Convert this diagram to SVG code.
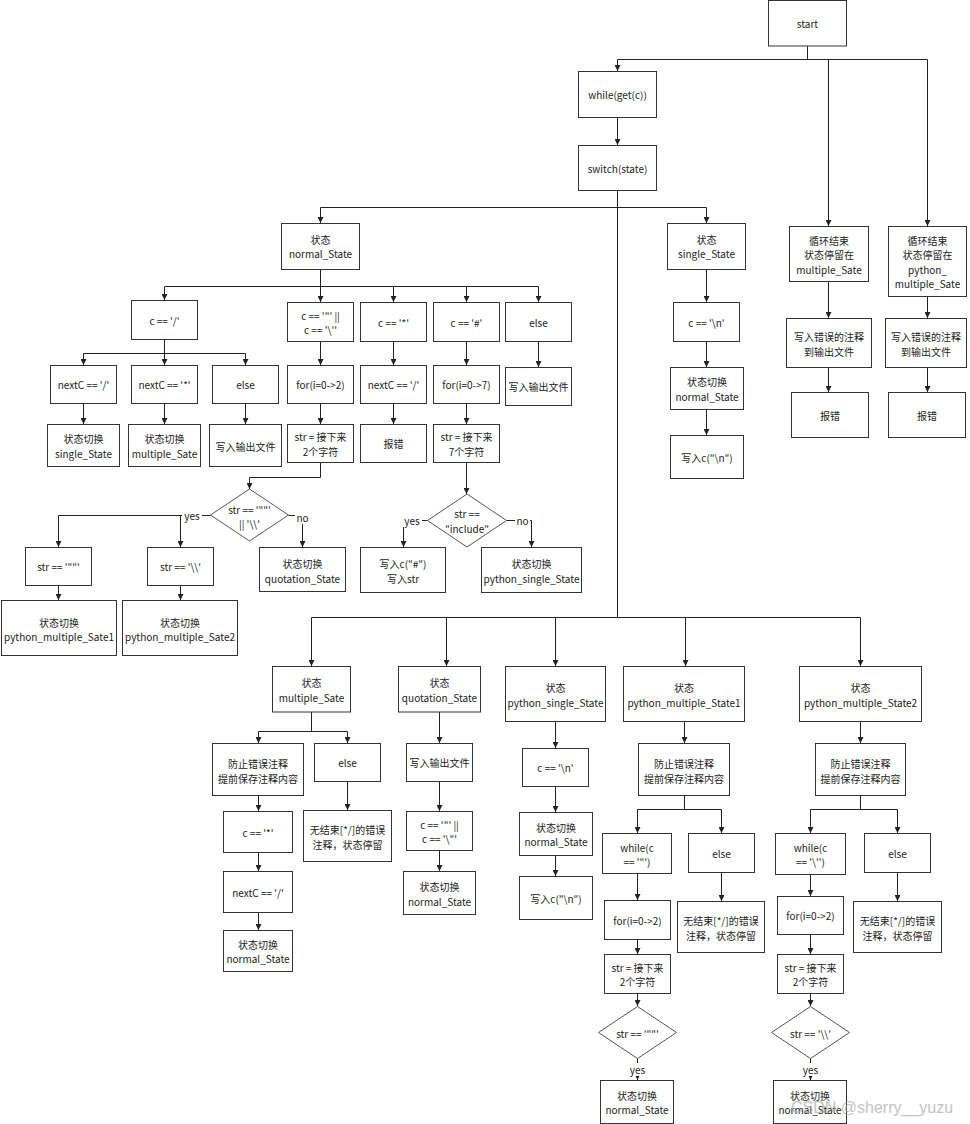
<svg xmlns="http://www.w3.org/2000/svg" width="970" height="1124" viewBox="0 0 970 1124">
<style>
.n rect,.n polygon{fill:#fff;stroke:#333;stroke-width:1}
.n polygon{stroke:#555}
text{font-family:"Noto Sans CJK SC","Noto Sans",sans-serif;font-size:10px;fill:#222;text-anchor:middle;dominant-baseline:central}
#connectors path{fill:none;stroke:#222;stroke-width:1}
#connectors path.a{marker-end:url(#arr)}
.lbl rect{fill:#fff;stroke:none}
.wm{font-family:"Liberation Sans",Arial,sans-serif;font-size:16px;fill:#aaa;opacity:0.7;text-anchor:start;dominant-baseline:alphabetic}
</style>
<defs>
<marker id="arr" viewBox="0 0 6 6" refX="6" refY="3" markerWidth="6" markerHeight="6" markerUnits="userSpaceOnUse" orient="auto">
<path d="M0,0 L6,3 L0,6 z" fill="#222"/>
</marker>
</defs>
<rect width="970" height="1124" fill="#fff"/>

<g id="connectors">
<path d="M807.5,46 V59.5"/>
<path d="M617.5,59.5 H927.5"/>
<path class="a" d="M617.5,59.5 V71"/>
<path class="a" d="M828.5,59.5 V226"/>
<path class="a" d="M927.5,59.5 V226"/>
<path class="a" d="M617.5,117 V145"/>
<path d="M617.5,190.5 V617.5"/>
<path d="M320.5,207.5 H706.5"/>
<path class="a" d="M320.5,207.5 V223"/>
<path class="a" d="M706.5,207.5 V223"/>
<path d="M320.5,269.5 V286.5"/>
<path d="M164.5,286.5 H538.5"/>
<path class="a" d="M164.5,286.5 V300"/>
<path class="a" d="M320.5,286.5 V302"/>
<path class="a" d="M393.5,286.5 V302"/>
<path class="a" d="M466.5,286.5 V302"/>
<path class="a" d="M538.5,286.5 V302"/>
<path d="M164.5,339.5 V353.5"/>
<path d="M83.5,353.5 H245.5"/>
<path class="a" d="M83.5,353.5 V365"/>
<path class="a" d="M164.5,353.5 V365"/>
<path class="a" d="M245.5,353.5 V365"/>
<path class="a" d="M83.5,403.5 V424"/>
<path class="a" d="M164.5,403.5 V424"/>
<path class="a" d="M245.5,403.5 V424"/>
<path class="a" d="M320.5,341.5 V365"/>
<path class="a" d="M320.5,403.5 V424"/>
<path class="a" d="M320.5,462.5 V477.5 H249.5 V489"/>
<path class="a" d="M393.5,341.5 V365"/>
<path class="a" d="M393.5,403.5 V424"/>
<path class="a" d="M466.5,341.5 V365"/>
<path class="a" d="M466.5,403.5 V424"/>
<path class="a" d="M466.5,462.5 V494"/>
<path class="a" d="M538.5,341.5 V367"/>
<path class="a" d="M210.5,515.5 H58.5 V547"/>
<path class="a" d="M180.5,515.5 V547"/>
<path class="a" d="M288.5,515.5 H302.5 V547"/>
<path class="a" d="M58.5,585.5 V600"/>
<path class="a" d="M180.5,585.5 V600"/>
<path class="a" d="M427.5,520.5 H403.5 V547"/>
<path class="a" d="M506.5,520.5 H531.5 V547"/>
<path class="a" d="M706.5,269.5 V302"/>
<path class="a" d="M706.5,341.5 V367"/>
<path class="a" d="M706.5,409.5 V435"/>
<path class="a" d="M828.5,281.5 V318"/>
<path class="a" d="M828.5,367.5 V392"/>
<path class="a" d="M927.5,296.5 V318"/>
<path class="a" d="M927.5,367.5 V392"/>
<path d="M311.5,617.5 H860.5"/>
<path class="a" d="M311.5,617.5 V666"/>
<path class="a" d="M446.5,617.5 V666"/>
<path class="a" d="M555.5,617.5 V666"/>
<path class="a" d="M685.5,617.5 V666"/>
<path class="a" d="M860.5,617.5 V666"/>
<path d="M311.5,712 V731.5"/>
<path d="M258.5,731.5 H347.5"/>
<path class="a" d="M258.5,731.5 V743"/>
<path class="a" d="M347.5,731.5 V743"/>
<path class="a" d="M258.5,795.5 V811"/>
<path class="a" d="M258.5,852.5 V871"/>
<path class="a" d="M258.5,912.5 V930"/>
<path class="a" d="M347.5,781.5 V810"/>
<path class="a" d="M439.5,712 V743"/>
<path class="a" d="M439.5,781.5 V811"/>
<path class="a" d="M439.5,850.5 V871"/>
<path class="a" d="M555.5,721.5 V748"/>
<path class="a" d="M555.5,786.5 V812"/>
<path class="a" d="M555.5,855.5 V876"/>
<path class="a" d="M684.5,721.5 V743"/>
<path d="M684.5,795.5 V809.5"/>
<path d="M637.5,809.5 H721.5"/>
<path class="a" d="M637.5,809.5 V833"/>
<path class="a" d="M721.5,809.5 V833"/>
<path class="a" d="M637.5,873.5 V900"/>
<path class="a" d="M637.5,939.5 V954"/>
<path class="a" d="M637.5,993.5 V1006"/>
<path class="a" d="M637.5,1058.5 V1080"/>
<path class="a" d="M721.5,872.5 V901"/>
<path class="a" d="M860.5,721.5 V743"/>
<path d="M860.5,795.5 V809.5"/>
<path d="M810.5,809.5 H897.5"/>
<path class="a" d="M810.5,809.5 V833"/>
<path class="a" d="M897.5,809.5 V833"/>
<path class="a" d="M810.5,874.5 V896"/>
<path class="a" d="M810.5,934.5 V954"/>
<path class="a" d="M810.5,993.5 V1006"/>
<path class="a" d="M810.5,1058.5 V1080"/>
<path class="a" d="M897.5,872.5 V901"/>
</g>

<g id="labels" class="lbl">
<rect x="182" y="509" width="20" height="13"/><text x="192" y="515.5">yes</text>
<rect x="295" y="511" width="15" height="13"/><text x="302.5" y="517.5">no</text>
<rect x="402" y="514" width="20" height="13"/><text x="412" y="520.5">yes</text>
<rect x="515" y="514" width="15" height="13"/><text x="522.5" y="520.5">no</text>
<rect x="627" y="1063" width="21" height="13"/><text x="637.5" y="1069.5">yes</text>
<rect x="800" y="1063" width="21" height="13"/><text x="810.5" y="1069.5">yes</text>
</g>

<g id="start" class="n"><rect x="768.5" y="0.5" width="78" height="45.5"/><text x="807.5" y="23.5">start</text></g>
<g id="while" class="n"><rect x="578.5" y="71.5" width="78" height="46"/><text x="617.5" y="94.5">while(get(c))</text></g>
<g id="switch" class="n"><rect x="578.5" y="145.5" width="78" height="45"/><text x="617.5" y="168">switch(state)</text></g>

<g id="normal" class="n"><rect x="281.5" y="223.5" width="78" height="46"/><text x="320.5" y="239.5">状态</text><text x="320.5" y="253.5">normal_State</text></g>
<g id="single" class="n"><rect x="667.5" y="223.5" width="78" height="46"/><text x="706.5" y="239.5">状态</text><text x="706.5" y="253.5">single_State</text></g>
<g id="loop1" class="n"><rect x="789.5" y="226.5" width="79" height="55"/><text x="829" y="240">循环结束</text><text x="829" y="254.5">状态停留在</text><text x="829" y="269">multiple_Sate</text></g>
<g id="loop2" class="n"><rect x="888.5" y="226.5" width="78" height="70"/><text x="927.5" y="240">循环结束</text><text x="927.5" y="254.5">状态停留在</text><text x="927.5" y="269">python_</text><text x="927.5" y="283.5">multiple_Sate</text></g>
<g id="err1" class="n"><rect x="786.5" y="318.5" width="85" height="49"/><text x="829" y="336">写入错误的注释</text><text x="829" y="351">到输出文件</text></g>
<g id="err2" class="n"><rect x="885.5" y="318.5" width="81" height="49"/><text x="926" y="336">写入错误的注释</text><text x="926" y="351">到输出文件</text></g>
<g id="bao1" class="n"><rect x="791.5" y="392.5" width="77" height="45"/><text x="830" y="415">报错</text></g>
<g id="bao2" class="n"><rect x="888.5" y="392.5" width="77" height="45"/><text x="927" y="415">报错</text></g>
<g id="sc" class="n"><rect x="673.5" y="302.5" width="66" height="39"/><text x="706.5" y="322">c == '\n'</text></g>
<g id="sn" class="n"><rect x="670.5" y="367.5" width="73" height="42"/><text x="707" y="381.5">状态切换</text><text x="707" y="396">normal_State</text></g>
<g id="sw" class="n"><rect x="670.5" y="435.5" width="73" height="43"/><text x="707" y="457">写入c("\n")</text></g>

<g id="cs" class="n"><rect x="131.5" y="300.5" width="66" height="39"/><text x="164.5" y="320">c == '/'</text></g>
<g id="cq" class="n"><rect x="287.5" y="302.5" width="66" height="39"/><text x="320.5" y="315">c == '"' ||</text><text x="320.5" y="329">c == '\''</text></g>
<g id="cstar" class="n"><rect x="360.5" y="302.5" width="66" height="39"/><text x="393.5" y="322">c ==  '*'</text></g>
<g id="chash" class="n"><rect x="433.5" y="302.5" width="66" height="39"/><text x="466.5" y="322">c == '#'</text></g>
<g id="else1" class="n"><rect x="505.5" y="302.5" width="66" height="39"/><text x="538.5" y="322">else</text></g>
<g id="ns" class="n"><rect x="50.5" y="365.5" width="66" height="38"/><text x="83.5" y="384.5">nextC ==  '/'</text></g>
<g id="nstar" class="n"><rect x="131.5" y="365.5" width="66" height="38"/><text x="164.5" y="384.5">nextC ==  '*'</text></g>
<g id="else2" class="n"><rect x="212.5" y="365.5" width="66" height="38"/><text x="245.5" y="384.5">else</text></g>
<g id="for2" class="n"><rect x="287.5" y="365.5" width="66" height="38"/><text x="320.5" y="384.5">for(i=0-&gt;2)</text></g>
<g id="nslash" class="n"><rect x="360.5" y="365.5" width="66" height="38"/><text x="393.5" y="384.5">nextC ==  '/'</text></g>
<g id="for7" class="n"><rect x="433.5" y="365.5" width="66" height="38"/><text x="466.5" y="384.5">for(i=0-&gt;7)</text></g>
<g id="write1" class="n"><rect x="505.5" y="367.5" width="66" height="38"/><text x="538.5" y="386.5">写入输出文件</text></g>
<g id="ss" class="n"><rect x="47.5" y="424.5" width="72" height="42"/><text x="83.5" y="438.5">状态切换</text><text x="83.5" y="453">single_State</text></g>
<g id="sm" class="n"><rect x="128.5" y="424.5" width="72" height="42"/><text x="164.5" y="438.5">状态切换</text><text x="164.5" y="453">multiple_Sate</text></g>
<g id="w2" class="n"><rect x="209.5" y="424.5" width="72" height="42"/><text x="245.5" y="446">写入输出文件</text></g>
<g id="str2" class="n"><rect x="287.5" y="424.5" width="66" height="38"/><text x="320.5" y="436.5">str = 接下来</text><text x="320.5" y="451">2个字符</text></g>
<g id="bao3" class="n"><rect x="360.5" y="424.5" width="66" height="38"/><text x="393.5" y="443.5">报错</text></g>
<g id="str7" class="n"><rect x="433.5" y="424.5" width="66" height="38"/><text x="466.5" y="436.5">str = 接下来</text><text x="466.5" y="451">7个字符</text></g>

<g id="d1" class="n"><polygon points="249.5,489 288.5,515 249.5,541 210.5,515"/><text x="249.5" y="509">str == '""'</text><text x="249.5" y="523">|| '\\'</text></g>
<g id="d2" class="n"><polygon points="467,494 506.5,520.5 467,547 427.5,520.5"/><text x="467" y="513.5">str ==</text><text x="467" y="528">"include"</text></g>
<g id="sq1" class="n"><rect x="25.5" y="547.5" width="66" height="38"/><text x="58.5" y="566.5">str == '""'</text></g>
<g id="sq2" class="n"><rect x="147.5" y="547.5" width="66" height="38"/><text x="180.5" y="566.5">str ==  '\\'</text></g>
<g id="quot" class="n"><rect x="259.5" y="547.5" width="86" height="44"/><text x="302.5" y="563">状态切换</text><text x="302.5" y="578">quotation_State</text></g>
<g id="pm1" class="n"><rect x="1.5" y="600.5" width="115" height="55"/><text x="59" y="622">状态切换</text><text x="59" y="636.5">python_multiple_Sate1</text></g>
<g id="pm2" class="n"><rect x="122.5" y="600.5" width="115" height="55"/><text x="180" y="622">状态切换</text><text x="180" y="636.5">python_multiple_Sate2</text></g>
<g id="wc" class="n"><rect x="360.5" y="547.5" width="85" height="45"/><text x="403" y="563">写入c("#")</text><text x="403" y="578">写入str</text></g>
<g id="pss" class="n"><rect x="481.5" y="547.5" width="100" height="45"/><text x="531.5" y="563">状态切换</text><text x="531.5" y="578">python_single_State</text></g>

<g id="ms" class="n"><rect x="272.5" y="666.5" width="78" height="45.5"/><text x="311.5" y="682.5">状态</text><text x="311.5" y="697">multiple_Sate</text></g>
<g id="qs" class="n"><rect x="398.5" y="666.5" width="82" height="45.5"/><text x="439.5" y="682.5">状态</text><text x="439.5" y="697">quotation_State</text></g>
<g id="pys" class="n"><rect x="505.5" y="666.5" width="100" height="55"/><text x="555.5" y="687.5">状态</text><text x="555.5" y="702">python_single_State</text></g>
<g id="pm1s" class="n"><rect x="623.5" y="666.5" width="121" height="55"/><text x="684" y="687.5">状态</text><text x="684" y="702">python_multiple_State1</text></g>
<g id="pm2s" class="n"><rect x="799.5" y="666.5" width="122" height="55"/><text x="860.5" y="687.5">状态</text><text x="860.5" y="702">python_multiple_State2</text></g>

<g id="m_prev" class="n"><rect x="212.5" y="743.5" width="91" height="52"/><text x="258" y="763">防止错误注释</text><text x="258" y="778">提前保存注释内容</text></g>
<g id="m_else" class="n"><rect x="314.5" y="743.5" width="66" height="38"/><text x="347.5" y="762.5">else</text></g>
<g id="m_c" class="n"><rect x="223.5" y="811.5" width="69" height="41"/><text x="258" y="832">c ==  '*'</text></g>
<g id="m_err" class="n"><rect x="303.5" y="810.5" width="88" height="51"/><text x="347.5" y="829">无结束[*/]的错误</text><text x="347.5" y="844">注释，状态停留</text></g>
<g id="m_n" class="n"><rect x="223.5" y="871.5" width="69" height="41"/><text x="258" y="892">nextC ==  '/'</text></g>
<g id="m_s" class="n"><rect x="223.5" y="930.5" width="69" height="41"/><text x="258" y="944">状态切换</text><text x="258" y="958.5">normal_State</text></g>

<g id="q_w" class="n"><rect x="406.5" y="743.5" width="66" height="38"/><text x="439.5" y="762.5">写入输出文件</text></g>
<g id="q_c" class="n"><rect x="406.5" y="811.5" width="66" height="39"/><text x="439.5" y="824.5">c == '"' ||</text><text x="439.5" y="838.5">c ==  '\"'</text></g>
<g id="q_s" class="n"><rect x="403.5" y="871.5" width="72" height="43"/><text x="439.5" y="886">状态切换</text><text x="439.5" y="901">normal_State</text></g>

<g id="ps_c" class="n"><rect x="522.5" y="748.5" width="66" height="38"/><text x="555.5" y="767.5">c == '\n'</text></g>
<g id="ps_s" class="n"><rect x="519.5" y="812.5" width="73" height="43"/><text x="556" y="827">状态切换</text><text x="556" y="841.5">normal_State</text></g>
<g id="ps_w" class="n"><rect x="519.5" y="876.5" width="73" height="43"/><text x="556" y="898">写入c("\n")</text></g>

<g id="p1_prev" class="n"><rect x="638.5" y="743.5" width="91" height="52"/><text x="684" y="763">防止错误注释</text><text x="684" y="778">提前保存注释内容</text></g>
<g id="p1_while" class="n"><rect x="602.5" y="833.5" width="69" height="40"/><text x="637" y="847.5">while(c</text><text x="637" y="861.5">==  '"')</text></g>
<g id="p1_else" class="n"><rect x="688.5" y="833.5" width="66" height="39"/><text x="721.5" y="853">else</text></g>
<g id="p1_for" class="n"><rect x="604.5" y="900.5" width="66" height="39"/><text x="637.5" y="920">for(i=0-&gt;2)</text></g>
<g id="p1_err" class="n"><rect x="677.5" y="901.5" width="87" height="51"/><text x="721" y="920">无结束[*/]的错误</text><text x="721" y="935">注释，状态停留</text></g>
<g id="p1_str" class="n"><rect x="604.5" y="954.5" width="66" height="39"/><text x="637.5" y="967">str = 接下来</text><text x="637.5" y="981.5">2个字符</text></g>
<g id="d3" class="n"><polygon points="637.5,1006.5 676.5,1032.5 637.5,1058.5 598.5,1032.5"/><text x="637.5" y="1033">str ==  '""'</text></g>
<g id="p1_s" class="n"><rect x="600.5" y="1080.5" width="73" height="43"/><text x="637" y="1095">状态切换</text><text x="637" y="1109.5">normal_State</text></g>

<g id="p2_prev" class="n"><rect x="815.5" y="743.5" width="90" height="52"/><text x="860.5" y="763">防止错误注释</text><text x="860.5" y="778">提前保存注释内容</text></g>
<g id="p2_while" class="n"><rect x="775.5" y="833.5" width="70" height="41"/><text x="810.5" y="847.5">while(c</text><text x="810.5" y="861.5">== '\'')</text></g>
<g id="p2_else" class="n"><rect x="864.5" y="833.5" width="66" height="39"/><text x="897.5" y="853">else</text></g>
<g id="p2_for" class="n"><rect x="777.5" y="896.5" width="66" height="38"/><text x="810.5" y="915.5">for(i=0-&gt;2)</text></g>
<g id="p2_err" class="n"><rect x="853.5" y="901.5" width="88" height="51"/><text x="897.5" y="920">无结束[*/]的错误</text><text x="897.5" y="935">注释，状态停留</text></g>
<g id="p2_str" class="n"><rect x="777.5" y="954.5" width="66" height="39"/><text x="810.5" y="967">str = 接下来</text><text x="810.5" y="981.5">2个字符</text></g>
<g id="d4" class="n"><polygon points="810.5,1006.5 849.5,1032.5 810.5,1058.5 771.5,1032.5"/><text x="810.5" y="1033">str == '\\'</text></g>
<g id="p2_s" class="n"><rect x="773.5" y="1080.5" width="73" height="43"/><text x="810" y="1095">状态切换</text><text x="810" y="1109.5">normal_State</text></g>

<text class="wm" x="791" y="1113">CSDN @sherry__yuzu</text>
</svg>
